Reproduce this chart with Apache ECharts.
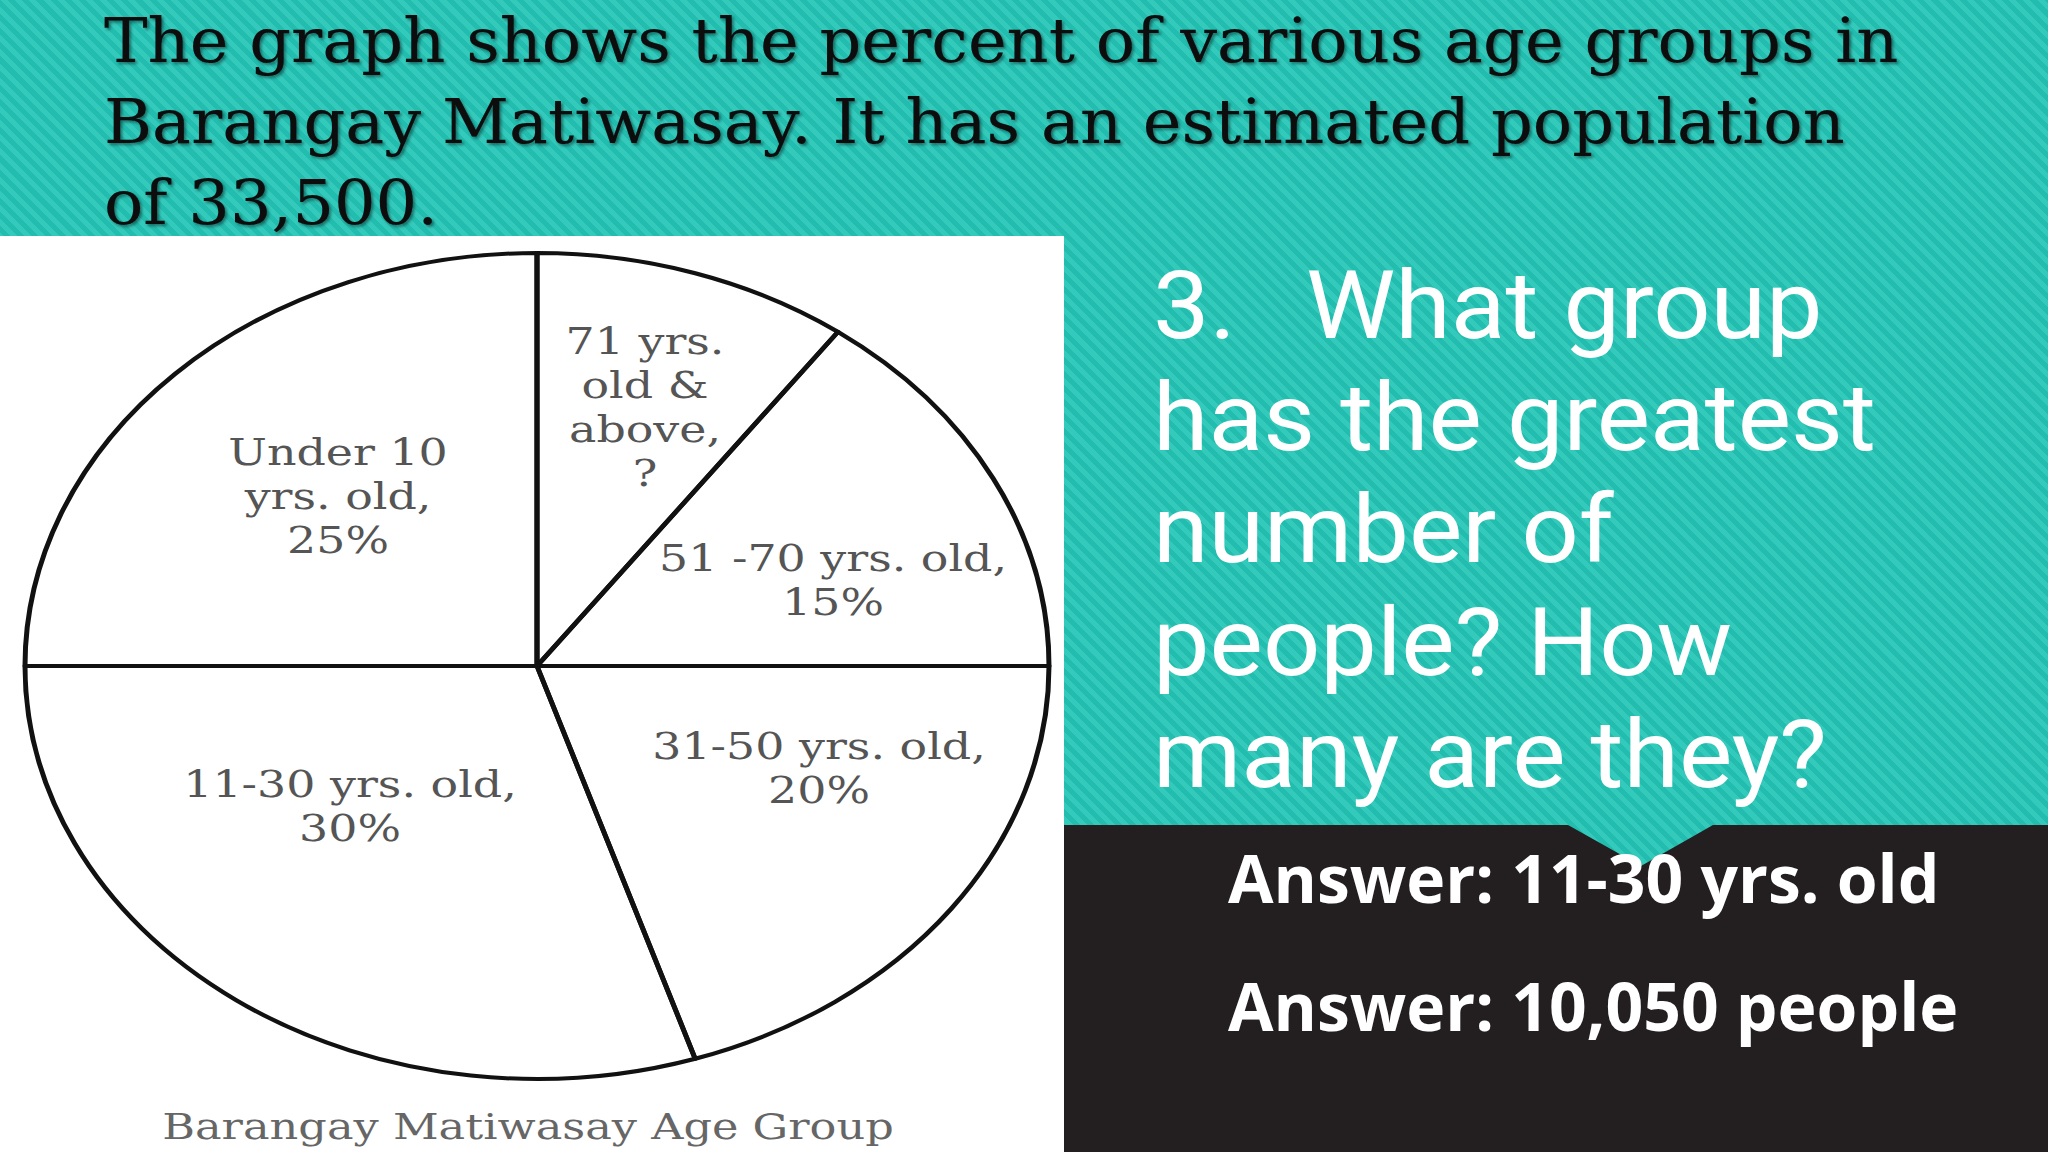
<!DOCTYPE html>
<html>
<head>
<meta charset="utf-8">
<script src="https://cdn.jsdelivr.net/npm/echarts@6/dist/echarts.min.js"></script>
<style>
  html, body { margin:0; padding:0; width:2048px; height:1152px; overflow:hidden;
    background: repeating-linear-gradient(45deg, #22bdaf 0px, #22bdaf 5px, #33c9bb 5px, #33c9bb 10px); }
  #main { position:absolute; left:0; top:0; width:2048px; height:1152px; }
  #pie { position:absolute; left:7px; top:136px; width:1060px; height:1060px;
    transform: scaleY(0.8066); transform-origin: 50% 50%; pointer-events:none; }
</style>
</head>
<body>
<div id="main"></div>
<div id="pie"></div>
<script>
// ---- data ----
const categories = ['71 yrs. old & above', '51 -70 yrs. old', '31-50 yrs. old', '11-30 yrs. old', 'Under 10 yrs. old'];
const values = [10, 15, 20, 30, 25];
const valueLabels = ['?', '15%', '20%', '30%', '25%'];
const sliceLabelText = ['71 yrs.\nold &\nabove,', '51 -70 yrs. old,', '31-50 yrs. old,', '11-30 yrs. old,', 'Under 10\nyrs. old,'];
const titleLines = ['The graph shows the percent of various age groups in', 'Barangay Matiwasay. It has an estimated population', 'of 33,500.'];
const chartCaption = 'Barangay Matiwasay Age Group';
const questionNumber = '3.';
const questionLines = ['What group', 'has the greatest', 'number of', 'people? How', 'many are they?'];
const answerLines = ['Answer: 11-30 yrs. old', 'Answer: 10,050 people'];

// ---- layout (styling only) ----
const labelPos = [[645, 407], [833, 580], [819, 768], [350, 806], [338, 496]];
const titleY = [41, 122, 203];
const questionY = [305, 417, 529, 642, 754];
const answerY = [877, 1005];

const graphics = [];
// white chart panel
graphics.push({ type: 'rect', shape: { x: 0, y: 236, width: 1064, height: 916 }, style: { fill: '#ffffff' }, z: 1 });
// dark answer panel with notch
graphics.push({ type: 'polygon', shape: { points: [[1064, 825], [1568, 825], [1641, 866], [1713, 825], [2048, 825], [2048, 1152], [1064, 1152]] }, style: { fill: '#231f20' }, z: 1 });

titleLines.forEach((t, i) => {
  graphics.push({ type: 'text', x: 104, y: titleY[i], scaleX: 1.055, z: 5,
    style: { text: t, fill: '#0a0a0a', font: '62px "DejaVu Serif"', lineHeight: 70, textAlign: 'left', textVerticalAlign: 'middle',
      textShadowColor: 'rgba(0,0,0,0.45)', textShadowBlur: 3, textShadowOffsetX: 2, textShadowOffsetY: 2 } });
});

const qFont = '95px Roboto';
graphics.push({ type: 'text', x: 1153, y: questionY[0], scaleX: 1.06, z: 5,
  style: { text: questionNumber, fill: '#ffffff', font: qFont, lineHeight: 100, textAlign: 'left', textVerticalAlign: 'middle' } });
questionLines.forEach((t, i) => {
  graphics.push({ type: 'text', x: i === 0 ? 1306 : 1153, y: questionY[i], scaleX: 1.06, z: 5,
    style: { text: t, fill: '#ffffff', font: qFont, lineHeight: 100, textAlign: 'left', textVerticalAlign: 'middle' } });
});
answerLines.forEach((t, i) => {
  graphics.push({ type: 'text', x: 1228, y: answerY[i], z: 5,
    style: { text: t, fill: '#ffffff', font: 'bold 66px "Open Sans"', lineHeight: 80, textAlign: 'left', textVerticalAlign: 'middle' } });
});

categories.forEach((c, i) => {
  graphics.push({ type: 'text', x: labelPos[i][0], y: labelPos[i][1], scaleX: 1.24, z: 5,
    style: { text: sliceLabelText[i] + '\n' + valueLabels[i], fill: '#555555', font: '37px "DejaVu Serif"',
      lineHeight: 44, textAlign: 'center', textVerticalAlign: 'middle' } });
});
graphics.push({ type: 'text', x: 528, y: 1127, scaleX: 1.24, z: 5,
  style: { text: chartCaption, fill: '#666666', font: '36px "DejaVu Serif"', textAlign: 'center', textVerticalAlign: 'middle' } });

const main = echarts.init(document.getElementById('main'), null, { renderer: 'svg', width: 2048, height: 1152 });
main.setOption({ backgroundColor: 'transparent', animation: false, graphic: graphics });

const pie = echarts.init(document.getElementById('pie'), null, { renderer: 'svg', width: 1060, height: 1060 });
pie.setOption({
  backgroundColor: 'transparent',
  animation: false,
  series: [{
    type: 'pie',
    center: ['50%', '50%'],
    radius: [0, 512],
    startAngle: 90,
    clockwise: true,
    silent: true,
    label: { show: false },
    labelLine: { show: false },
    itemStyle: { color: 'rgba(255,255,255,0)', borderColor: '#111111', borderWidth: 5 },
    emphasis: { disabled: true },
    data: categories.map((c, i) => ({ name: c, value: values[i] }))
  }]
});
</script>
</body>
</html>
